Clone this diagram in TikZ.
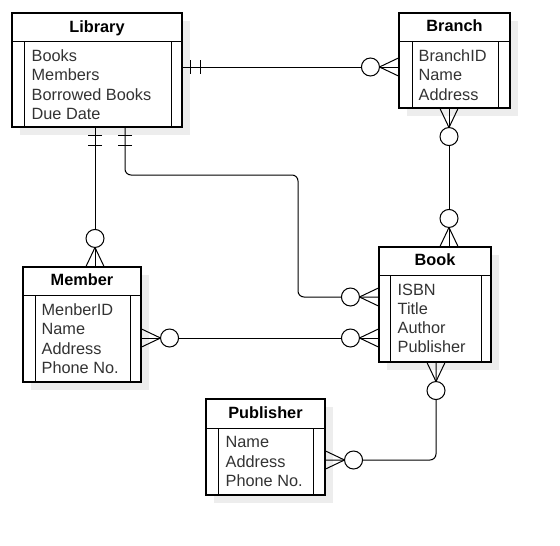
\documentclass[tikz,border=0pt]{standalone}
\usepackage{fontspec}
\setmainfont{Liberation Sans}
\usetikzlibrary{calc}
\usetikzlibrary{shadows}

\tikzset{
  entity/.style={draw, line width=1.1pt, fill=white, inner sep=0,
    drop shadow={shadow xshift=8pt, shadow yshift=-8pt, fill=black!7, opacity=1}},
  etitle/.style={font=\fontsize{16.3}{19.3}\selectfont\bfseries, anchor=base},
  eattrs/.style={font=\fontsize{16.3}{19.3}\selectfont, text=black!80, align=left, anchor=north west, inner sep=0},
  conn/.style={line width=1pt, rounded corners=6pt},
  zeromany/.pic={
    \draw[line width=1pt] (0,9) -- (19,0) -- (0,-9);
    \draw[line width=1pt, fill=white] (28,0) circle[radius=9];
  },
  onlyone/.pic={
    \draw[line width=1pt] (8,-7) -- (8,7) (18,-7) -- (18,7);
  },
}

\begin{document}
\begin{tikzpicture}[x=1pt, y=-1pt]
    \useasboundingbox (0,0) rectangle (560,546);

    % Library
    \node[entity, minimum width=170pt, minimum height=114pt] (library) at (97,70) {};
    \draw[line width=1.1pt] (library.north west) ++(0,29) -- ++(170,0);
    \draw[line width=1.1pt] (library.north west) ++(13,29) -- ++(0,85) (library.north east) ++(-11,29) -- ++(0,85);
    \node[etitle] (library-title) at ($(library.north)+(0,20)$) {Library};
    \node[eattrs] (library-attrs) at ($(library.north west)+(20,37)$) {Books\\Members\\Borrowed Books\\Due Date};

    % Branch
    \node[entity, minimum width=111pt, minimum height=95pt] (branch) at (454.5,60.5) {};
    \draw[line width=1.1pt] (branch.north west) ++(0,29) -- ++(111,0);
    \draw[line width=1.1pt] (branch.north west) ++(14,29) -- ++(0,66) (branch.north east) ++(-12,29) -- ++(0,66);
    \node[etitle] (branch-title) at ($(branch.north)+(0,19.5)$) {Branch};
    \node[eattrs] (branch-attrs) at ($(branch.north west)+(20,37)$) {BranchID\\Name\\Address};

    % Member
    \node[entity, minimum width=118pt, minimum height=115pt] (member) at (82,324.5) {};
    \draw[line width=1.1pt] (member.north west) ++(0,29) -- ++(118,0);
    \draw[line width=1.1pt] (member.north west) ++(13,29) -- ++(0,86) (member.north east) ++(-11,29) -- ++(0,86);
    \node[etitle] (member-title) at ($(member.north)+(0,19.5)$) {Member};
    \node[eattrs] (member-attrs) at ($(member.north west)+(19,37)$) {MenberID\\Name\\Address\\Phone No.};

    % Book
    \node[entity, minimum width=112pt, minimum height=115pt] (book) at (435,304.5) {};
    \draw[line width=1.1pt] (book.north west) ++(0,29) -- ++(112,0);
    \draw[line width=1.1pt] (book.north west) ++(12,29) -- ++(0,86) (book.north east) ++(-10,29) -- ++(0,86);
    \node[etitle] (book-title) at ($(book.north)+(0,19.5)$) {Book};
    \node[eattrs] (book-attrs) at ($(book.north west)+(19,37)$) {ISBN\\Title\\Author\\Publisher};

    % Publisher
    \node[entity, minimum width=119pt, minimum height=96pt] (publisher) at (265.5,447) {};
    \draw[line width=1.1pt] (publisher.north west) ++(0,30) -- ++(119,0);
    \draw[line width=1.1pt] (publisher.north west) ++(13,30) -- ++(0,66) (publisher.north east) ++(-12,30) -- ++(0,66);
    \node[etitle] (publisher-title) at ($(publisher.north)+(0,20)$) {Publisher};
    \node[eattrs] (publisher-attrs) at ($(publisher.north west)+(20,38)$) {Name\\Address\\Phone No.};

    % relations
    \coordinate (lib-book-bend) at (298,175);
    \draw[conn] ([yshift=3pt]library.east) -- ([yshift=-6.5pt]branch.west);
    \draw[conn] ([xshift=-2pt]library.south) -- ([xshift=13pt]member.north);
    \draw[conn] ([xshift=28pt]library.south) |- (lib-book-bend) |- ([yshift=7.5pt]book.west);
    \draw[conn] ([yshift=-13.5pt]member.east) -- ([yshift=-33.5pt]book.west);
    \draw[conn] ([xshift=-5.5pt]branch.south) -- ([xshift=14pt]book.north);
    \draw[conn] ([xshift=1pt]book.south) |- ([yshift=-13pt]publisher.east);

    % ends
    \pic at ([yshift=3pt]library.east) {onlyone};
    \pic[rotate=180] at ([yshift=-6.5pt]branch.west) {zeromany};
    \pic[rotate=-90] at ([xshift=-2pt]library.south) {onlyone};
    \pic[rotate=90] at ([xshift=13pt]member.north) {zeromany};
    \pic[rotate=-90] at ([xshift=28pt]library.south) {onlyone};
    \pic[rotate=180] at ([yshift=7.5pt]book.west) {zeromany};
    \pic at ([yshift=-13.5pt]member.east) {zeromany};
    \pic[rotate=180] at ([yshift=-33.5pt]book.west) {zeromany};
    \pic[rotate=-90] at ([xshift=-5.5pt]branch.south) {zeromany};
    \pic[rotate=90] at ([xshift=14pt]book.north) {zeromany};
    \pic[rotate=-90] at ([xshift=1pt]book.south) {zeromany};
    \pic at ([yshift=-13pt]publisher.east) {zeromany};
\end{tikzpicture}
\end{document}
